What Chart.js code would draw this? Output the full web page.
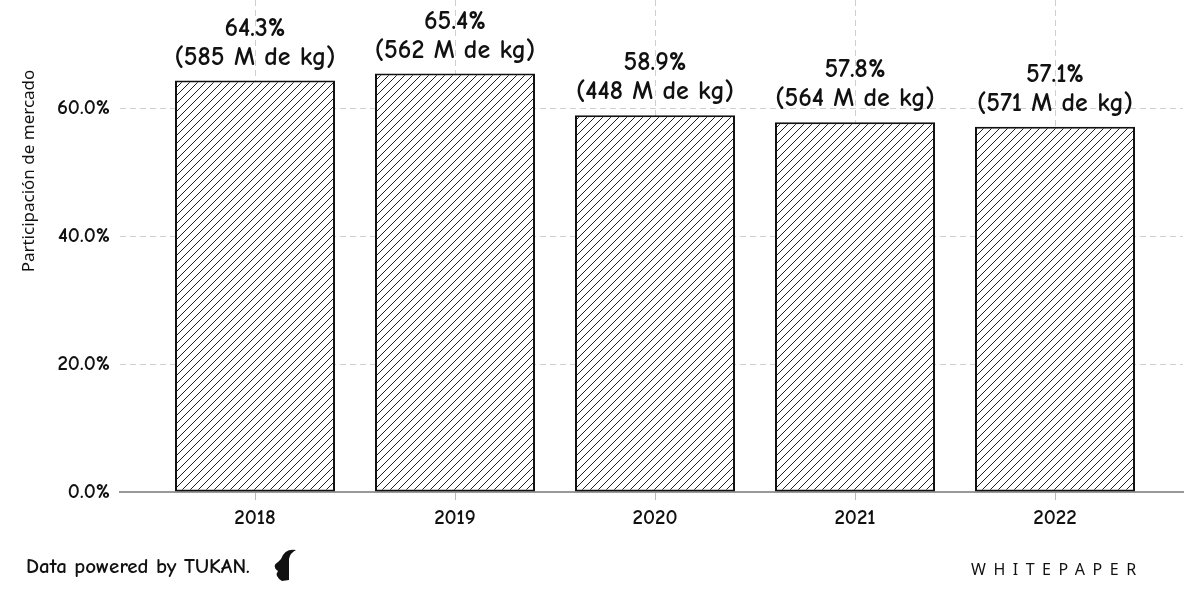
<!DOCTYPE html>
<html>
<head>
<meta charset="utf-8">
<script src="https://cdn.jsdelivr.net/npm/chart.js@4"></script>
<style>
  html, body { margin: 0; padding: 0; background: #fff; }
  #wrap { width: 1200px; height: 600px; }
</style>
</head>
<body>
<div id="wrap"><canvas id="chartCuota"></canvas></div>
<script>
const anos = ["2018", "2019", "2020", "2021", "2022"];
const participacion = [64.3, 65.4, 58.9, 57.8, 57.1];
const volumenKg = [585, 562, 448, 564, 571];
const ticksY = [0, 20, 40, 60];

const fuente = "'Comic Neue', 'Noto Sans', sans-serif";

// patrón rayado de las barras
function rayado() {
  const c = document.createElement("canvas");
  c.width = 8;
  c.height = 8;
  const g = c.getContext("2d");
  g.fillStyle = "#fff";
  g.fillRect(0, 0, 8, 8);
  g.strokeStyle = "#222";
  g.lineWidth = 1;
  g.beginPath();
  g.moveTo(-1, 9); g.lineTo(9, -1);
  g.moveTo(-1, 1); g.lineTo(1, -1);
  g.moveTo(7, 9); g.lineTo(9, 7);
  g.stroke();
  return g.createPattern(c, "repeat");
}

// etiquetas encima de las barras + textos del pie
const extras = {
  id: "extras",
  afterDatasetsDraw(chart) {
    const ctx = chart.ctx;
    const meta = chart.getDatasetMeta(0);
    ctx.save();
    ctx.fillStyle = "#111";
    ctx.textAlign = "center";
    ctx.textBaseline = "alphabetic";
    ctx.font = "bold 26px " + fuente;
    meta.data.forEach((bar, i) => {
      ctx.fillText(participacion[i].toFixed(1) + "%", bar.x, bar.y - 45);
      ctx.fillText("(" + volumenKg[i] + " M de kg)", bar.x, bar.y - 16);
    });
    ctx.restore();
  },
  afterDraw(chart) {
    const ctx = chart.ctx;
    ctx.save();
    // titulo eje y
    ctx.translate(29, 171);
    ctx.rotate(-Math.PI / 2);
    ctx.textAlign = "center";
    ctx.textBaseline = "middle";
    ctx.fillStyle = "#111";
    ctx.font = "17px 'Noto Sans', sans-serif";
    ctx.fillText("Participación de mercado", 0, 0);
    ctx.restore();

    ctx.save();
    ctx.fillStyle = "#111";
    ctx.textBaseline = "alphabetic";
    ctx.font = "bold 21px " + fuente;
    ctx.fillText("Data powered by TUKAN.", 26, 573);

    // tucán
    ctx.beginPath();
    ctx.moveTo(281, 559);
    ctx.quadraticCurveTo(285, 548, 296, 550);
    ctx.quadraticCurveTo(290, 553, 289, 559);
    ctx.lineTo(289, 580);
    ctx.lineTo(282, 581);
    ctx.quadraticCurveTo(274, 576, 278, 571);
    ctx.quadraticCurveTo(271, 566, 278, 562);
    ctx.closePath();
    ctx.fill();

    ctx.font = "16px 'Noto Sans', sans-serif";
    if ("letterSpacing" in ctx) ctx.letterSpacing = "7.5px";
    ctx.fillText("WHITEPAPER", 971, 575);
    ctx.restore();
  },
};

const ctxCuota = document.getElementById("chartCuota").getContext("2d");
new Chart(ctxCuota, {
  type: "bar",
  data: {
    datasets: [
      {
        label: "Participación de mercado",
        data: anos.map((a, i) => ({ x: i, y: participacion[i] })),
        backgroundColor: rayado(),
        borderColor: "#111",
        borderWidth: 2,
        borderSkipped: false,
        barPercentage: 0.8,
        categoryPercentage: 1,
      },
    ],
  },
  options: {
    responsive: true,
    maintainAspectRatio: false,
    animation: false,
    layout: { padding: { left: 0, right: 17, top: 0, bottom: 63 } },
    plugins: {
      legend: { display: false },
      tooltip: { enabled: false },
    },
    scales: {
      x: {
        type: "linear",
        offset: false,
        min: -0.675,
        max: 4.64,
        afterBuildTicks: (s) => {
          s.ticks = anos.map((a, i) => ({ value: i }));
        },
        afterFit: (s) => {
          s.height = 45;
          s.paddingLeft = 0;
          s.paddingRight = 0;
        },
        grid: {
          offset: false,
          color: "#cfcfcf",
          lineWidth: 1,
          tickLength: 8,
          tickColor: "#bbb",
        },
        border: { display: true, color: "#999", width: 2, dash: [6, 4] },
        ticks: {
          color: "#111",
          padding: 5,
          maxRotation: 0,
          font: { family: fuente, size: 21, weight: "bold" },
          callback: (v) => anos[v],
        },
      },
      y: {
        min: 0,
        max: 76.9,
        afterBuildTicks: (s) => {
          s.ticks = ticksY.map((v) => ({ value: v }));
        },
        afterFit: (s) => {
          s.width = 120;
          s.paddingTop = 0;
          s.paddingBottom = 0;
        },
        grid: { color: "#cfcfcf", lineWidth: 1, drawTicks: false },
        border: { display: false, dash: [6, 4] },
        ticks: {
          color: "#111",
          padding: 10,
          font: { family: fuente, size: 21, weight: "bold" },
          callback: (v) => v.toFixed(1) + "%",
        },
      },
    },
  },
  plugins: [extras],
});
</script>
</body>
</html>
